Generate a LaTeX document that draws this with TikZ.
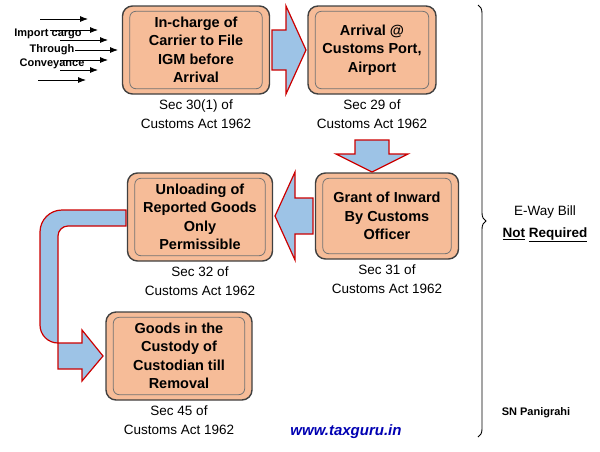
\documentclass[tikz,border=0pt]{standalone}
\usepackage{fontspec}
\setmainfont{Liberation Sans}
\usetikzlibrary{arrows.meta,decorations.pathreplacing,calc,positioning}
\definecolor{peach}{HTML}{F6BC98}
\definecolor{arblue}{HTML}{9DC3E6}
\begin{document}
\begin{tikzpicture}[x=1pt,y=-1pt,
 box/.style={draw=black!75,line width=1.4pt,fill=peach,rounded corners=10pt,minimum width=#1,minimum height=88pt,align=center,font=\bfseries\fontsize{14.5}{18.5}\selectfont,inner sep=2pt},
 inner/.style={draw=black!55,line width=0.8pt,rounded corners=6pt},
 captxt/.style={align=center,font=\fontsize{13.5}{19}\selectfont,inner sep=1pt},
 bar/.style={draw=red!80!black,line width=1.2pt,fill=arblue},
 inarr/.style={-{Latex[length=8pt,width=6pt]},line width=0.8pt},
 lbl/.style={font=\bfseries\fontsize{11}{12}\selectfont,inner sep=0pt}]
\useasboundingbox (0,0) rectangle (600,451);
\node[box=147pt] (b1) at (196,50) {In-charge of\\Carrier to File\\IGM before\\Arrival};
\node[box=128pt] (b2) at (372,50) {Arrival @\\Customs Port,\\Airport};
\node[box=143pt,minimum height=86pt] (b3) at (387,216) {Grant of Inward\\By Customs\\Officer};
\node[box=145pt] (b4) at (200,217) {Unloading of\\Reported Goods\\Only\\Permissible};
\node[box=146pt] (b5) at (179,356) {Goods in the\\Custody of\\Custodian till\\Removal};
\foreach \n in {b1,b2,b3,b4,b5}
  \draw[inner] ($(\n.north west)+(8,6)$) rectangle ($(\n.south east)+(-8,-6)$);
\node[captxt,below=4pt of b1] (c1) {Sec 30(1) of\\Customs Act 1962};
\node[captxt,below=4pt of b2] (c2) {Sec 29 of\\Customs Act 1962};
\node[captxt,below=4pt of b3] (c3) {Sec 31 of\\Customs Act 1962};
\node[captxt,below=4pt of b4] (c4) {Sec 32 of\\Customs Act 1962};
\node[captxt,below=4pt of b5] (c5) {Sec 45 of\\Customs Act 1962};
% block arrows
\draw[bar] (272,30) -- (286,30) -- (286,6) -- (306,50) -- (286,94) -- (286,70) -- (272,70) -- cycle;
\draw[bar] (355,140) -- (389,140) -- (389,154) -- (408,154) -- (372,172) -- (336,154) -- (355,154) -- cycle;
\draw[bar] (313,198) -- (295,198) -- (295,172) -- (275,216) -- (295,260) -- (295,234) -- (313,234) -- cycle;
\draw[bar] (126,210) -- (62,210) arc[start angle=270,end angle=180,radius=22] -- (40,325) arc[start angle=180,end angle=90,radius=18] -- (82,343) -- (82,330) -- (103,356) -- (82,381) -- (82,369) -- (58,369) -- (58,236) arc[start angle=180,end angle=270,radius=10] -- (126,226) -- cycle;
% input arrows
\foreach \xa/\xb/\y in {40/88/19,50/98/30,60/108/40,75/118/50,60/108/60,60/98/70,38/86/80}
  \draw[inarr] (\xa,\y) -- (\xb,\y);
\node[lbl] (t1) at (48,34) {Import cargo};
\node[lbl] (t2) at (52,50) {Through};
\node[lbl] (t3) at (52,64) {Conveyance};
% brace
\draw[line width=0.9pt,decorate,decoration={brace,amplitude=8pt}] (478,5) -- (478,437);
\node[align=center,font=\fontsize{13.5}{22}\selectfont] (ew) at (545,224) {E-Way Bill\\\textbf{\underline{Not} \underline{Required}}};
\node[lbl] (sn) at (536,413) {SN Panigrahi};
\node[font=\rmfamily\bfseries\itshape\fontsize{15}{17}\selectfont,text=blue!70!black] (tg) at (346,432) {www.taxguru.in};
\end{tikzpicture}
\end{document}
